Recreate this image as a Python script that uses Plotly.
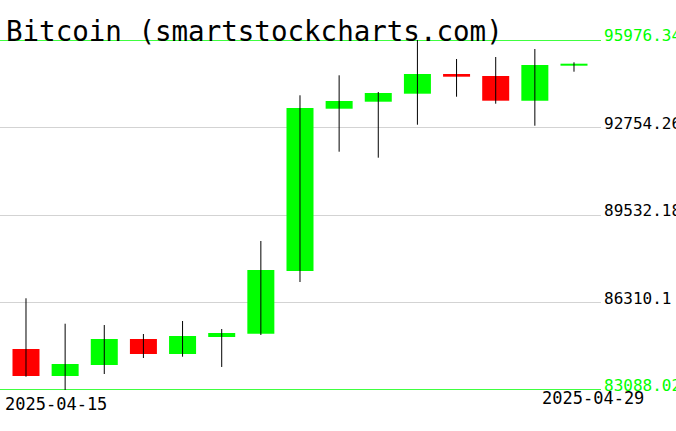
import plotly.graph_objects as go

dates = ["2025-04-15", "2025-04-16", "2025-04-17", "2025-04-18", "2025-04-19",
         "2025-04-20", "2025-04-21", "2025-04-22", "2025-04-23", "2025-04-24",
         "2025-04-25", "2025-04-26", "2025-04-27", "2025-04-28", "2025-04-29"]
opens = [84598, 83603, 84008, 84966, 84414, 85040, 85161, 87470, 93446, 93704,
         93999, 94724, 94651, 93741, 95030]
highs = [86465, 85529, 85481, 85150, 85629, 85334, 88575, 93940, 94676, 94061,
         95976.34, 95277, 95350, 95645, 95155]
lows = [83577, 83088.02, 83677, 84266, 84314, 83936, 85113, 87065, 91863, 91642,
        92857, 93888, 93631, 92820, 94809]
closes = [83603, 84045, 84966, 84414, 85076, 85187, 87507, 93472, 93730, 94025,
          94724, 94625, 93741, 95056, 95104]

tick_vals = [83088.02, 86310.1, 89532.18, 92754.26, 95976.34]
tick_labels = ["83088.02", "86310.1", "89532.18", "92754.26", "95976.34"]
title_text = "Bitcoin (smartstockcharts.com)"

GREEN = "#00ff00"
RED = "#ff0000"
FONT = "DejaVu Sans Mono"

# wicks
wx, wy = [], []
for d, lo, hi in zip(dates, lows, highs):
    wx += [d, d, None]
    wy += [lo, hi, None]

fig = go.Figure()
fig.add_trace(go.Scatter(x=wx, y=wy, mode="lines",
                         line=dict(color="black", width=1),
                         hoverinfo="skip", showlegend=False))
fig.add_trace(go.Bar(
    x=dates,
    base=[min(o, c) for o, c in zip(opens, closes)],
    y=[max(abs(c - o), 1) for o, c in zip(opens, closes)],
    marker=dict(color=[GREEN if c >= o else RED for o, c in zip(opens, closes)],
                line=dict(width=0)),
    width=0.69, showlegend=False))

ymin, ymax = tick_vals[0], tick_vals[-1]

fig.update_layout(
    width=676, height=431,
    margin=dict(l=0, r=75, t=40, b=41),
    paper_bgcolor="white", plot_bgcolor="white",
    showlegend=False,
    xaxis=dict(type="category", range=[-0.664, 14.69], showgrid=False,
               showticklabels=False, zeroline=False, showline=False, ticks=""),
    yaxis=dict(range=[ymin, ymax], tickvals=tick_vals[1:-1], showticklabels=False,
               showgrid=True, gridcolor="#d3d3d3", gridwidth=1,
               zeroline=False, showline=False, ticks=""),
)

for v in (ymin, ymax):
    fig.add_shape(type="line", xref="paper", yref="y", x0=0, x1=1, y0=v, y1=v,
                  line=dict(color=GREEN, width=1.5), layer="below")

for v, lab in zip(tick_vals, tick_labels):
    col = GREEN if v in (ymin, ymax) else "black"
    fig.add_annotation(x=1, xref="paper", y=v, yref="y", text=lab,
                       xanchor="left", yanchor="bottom", xshift=1, yshift=-7,
                       showarrow=False, font=dict(family=FONT, size=16, color=col))

fig.add_annotation(x=0, xref="paper", y=1, yref="paper", text=title_text,
                   xanchor="left", yanchor="bottom", xshift=4, yshift=-9,
                   showarrow=False, font=dict(family=FONT, size=27.5, color="black"))

fig.add_annotation(x=0, xref="paper", y=0, yref="paper", text=dates[0],
                   xanchor="left", yanchor="top", xshift=3, yshift=-2,
                   showarrow=False, font=dict(family=FONT, size=17, color="black"))
fig.add_annotation(x=1, xref="paper", y=0, yref="paper", text=dates[-1],
                   xanchor="right", yanchor="top", xshift=45, yshift=4,
                   showarrow=False, font=dict(family=FONT, size=17, color="black"))

fig.write_html("out.html", config={"displayModeBar": False},
               post_script="document.body.style.margin='0';document.body.style.overflow='hidden';")
